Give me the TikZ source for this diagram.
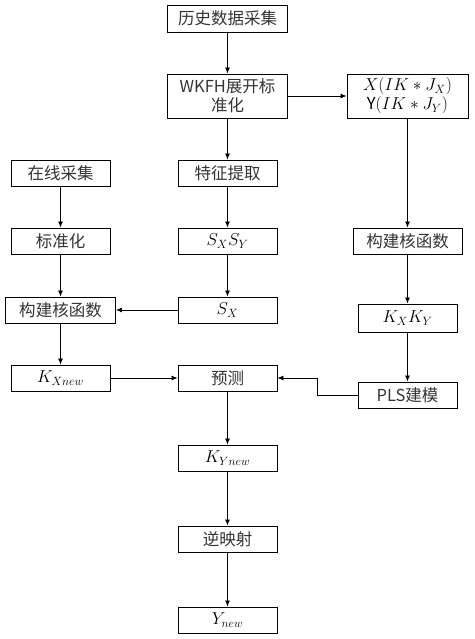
\documentclass[tikz,border=0pt]{standalone}
\usepackage{amsmath}
\usepackage{fontspec}
\setmainfont{Noto Sans CJK SC}
\usetikzlibrary{arrows.meta}

\tikzset{
    box/.style={draw, line width=0.9pt, minimum width=99pt, minimum height=26pt,
        inner sep=1pt, align=center, text=black!80, font=\fontsize{16.5}{19}\selectfont},
    mbox/.style={box, text=black},
    arr/.style={line width=0.8pt, -{Latex[length=6pt,width=5pt]}}
}

\begin{document}
\begin{tikzpicture}[x=1pt, y=-1pt]
    \useasboundingbox (0,0) rectangle (474,639);
    % centre column
    \node[box, minimum width=120pt, minimum height=27pt] (hist) at (227.5,18.5) {历史数据采集};
    \node[box, minimum width=120pt, minimum height=44pt] (wkfh) at (227.5,96) {WKFH展开标\\准化};
    \node[box] (feat) at (227.5,173) {特征提取};
    \node[mbox] (sxsy) at (227.5,241) {$S_X S_Y$};
    \node[mbox] (sx) at (227.5,310) {$S_X$};
    \node[box] (pred) at (227.5,378) {预测};
    \node[mbox] (kynew) at (227.5,458) {$K_{Ynew}$};
    \node[box] (inv) at (227.5,539) {逆映射};
    \node[mbox] (ynew) at (227.5,620) {$Y_{new}$};
    % left column
    \node[box] (online) at (60.5,173) {在线采集};
    \node[box] (std) at (60.5,241) {标准化};
    \node[box, minimum width=110pt] (kernL) at (60.5,310) {构建核函数};
    \node[mbox] (kxnew) at (60.5,378) {$K_{Xnew}$};
    % right column
    \node[mbox, minimum width=121pt, minimum height=44pt] (xy) at (407.5,96)
        {$X(IK*J_X)$\\Y$(IK*J_Y)$};
    \node[box, minimum width=109pt] (kernR) at (407.5,241) {构建核函数};
    \node[mbox, minimum height=28pt] (kxky) at (407.5,318) {$K_X K_Y$};
    \node[box] (pls) at (407.5,395) {PLS建模};

    \draw[arr] (hist) -- (wkfh);
    \draw[arr] (wkfh) -- (xy);
    \draw[arr] (wkfh) -- (feat);
    \draw[arr] (feat) -- (sxsy);
    \draw[arr] (sxsy) -- (sx);
    \draw[arr] (sx) -- (kernL);
    \draw[arr] (online) -- (std);
    \draw[arr] (std) -- (kernL);
    \draw[arr] (kernL) -- (kxnew);
    \draw[arr] (kxnew) -- (pred);
    \draw[arr] (xy) -- (kernR);
    \draw[arr] (kernR) -- (kxky);
    \draw[arr] (kxky) -- (pls);
    \draw[arr] (pls.west) -- ++(-40,0) |- (pred.east);
    \draw[arr] (pred) -- (kynew);
    \draw[arr] (kynew) -- (inv);
    \draw[arr] (inv) -- (ynew);
\end{tikzpicture}
\end{document}
